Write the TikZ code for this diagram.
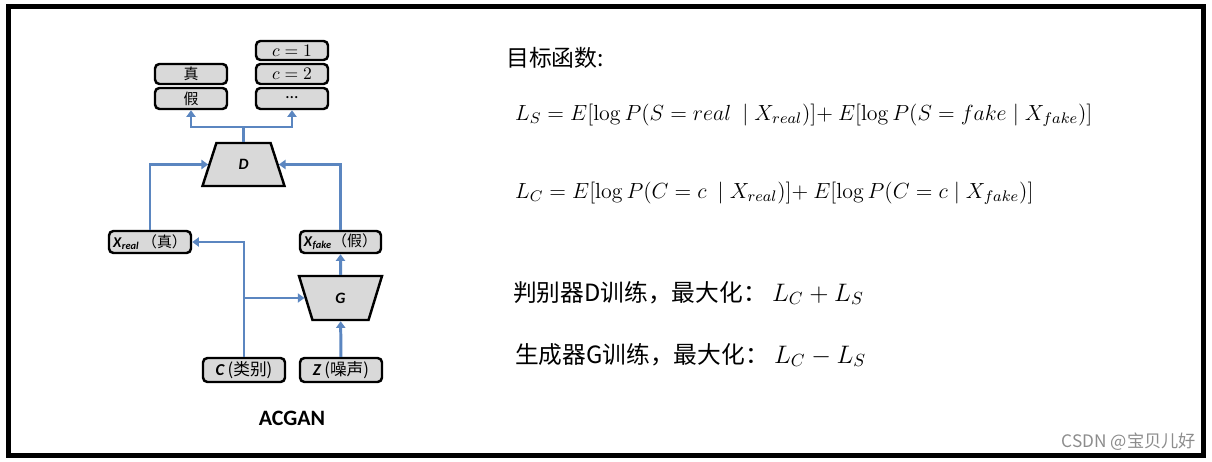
\RequirePackage{fix-cm}
\documentclass[tikz,border=0pt]{standalone}
\usepackage[no-math]{fontspec}
\setmainfont{Carlito}
\newfontfamily\cjk{Noto Sans CJK SC}
\usetikzlibrary{arrows.meta,shapes.geometric}
\definecolor{flowblue}{HTML}{5B86C0}
\definecolor{boxgray}{HTML}{D9D9D9}
\newcommand{\bi}[1]{\textbf{\textit{#1}}}
\tikzset{
  flow/.style={draw=flowblue, line width=1.7pt, -{Triangle[length=3.8pt,width=5.2pt]}},
  labelbox/.style={draw, line width=1.4pt, rounded corners=2.5pt, fill=boxgray,
    inner sep=0pt, font=\fontsize{8.5}{10}\selectfont},
  trap/.style={trapezium, trapezium stretches=true, draw, line width=1.4pt,
    fill=boxgray, inner sep=0pt, font=\fontsize{9}{10}\selectfont}
}
\begin{document}
\begin{tikzpicture}[x=0.02cm,y=-0.02cm]
  \useasboundingbox (0,0) rectangle (1212,462);
  \draw[line width=2.8pt] (8.5,6.5) rectangle (1203.5,455.5); % frame

  % discriminator outputs
  \node[labelbox, minimum width=1.44cm, minimum height=0.40cm] (real) at (191,74) {\cjk 真};
  \node[labelbox, minimum width=1.44cm, minimum height=0.42cm] (fake) at (191,98.5) {\cjk 假};
  \node[labelbox, minimum width=1.44cm, minimum height=0.38cm, font=\fontsize{10}{11}\selectfont] (cone) at (292,50.5) {$c = 1$};
  \node[labelbox, minimum width=1.44cm, minimum height=0.40cm, font=\fontsize{10}{11}\selectfont] (ctwo) at (292,74) {$c = 2$};
  \node[labelbox, minimum width=1.44cm, minimum height=0.42cm, font=\fontsize{10}{11}\selectfont] (cdots) at (292,98.5) {\raisebox{1pt}{\ldots}};

  % D and G
  \node[trap, trapezium angle=76, minimum width=1.64cm, minimum height=0.86cm] (D) at (243.5,164.5) {\bi{D}};
  \node[trap, trapezium angle=77, shape border rotate=180, minimum width=1.66cm, minimum height=0.88cm] (G) at (340.5,298) {\bi{G}};

  % samples and inputs
  \node[labelbox, minimum width=1.64cm, minimum height=0.44cm] (xreal) at (150,242) {\bi{X}\textsubscript{\bi{real}}\,{\cjk （真）}};
  \node[labelbox, minimum width=1.62cm, minimum height=0.44cm] (xfake) at (340.5,242) {\bi{X}\textsubscript{\bi{fake}}{\cjk （假）}};
  \node[labelbox, minimum width=1.64cm, minimum height=0.48cm, font=\fontsize{9.5}{10}\selectfont] (cin) at (244,370) {\bi{C}\,{\cjk (类别)}};
  \node[labelbox, minimum width=1.64cm, minimum height=0.48cm, font=\fontsize{9.5}{10}\selectfont] (zin) at (341,370) {\bi{Z}\,{\cjk (噪声)}};

  \node[font=\bfseries\fontsize{12.5}{14}\selectfont] (acgan) at (292,418) {ACGAN};

  % connectors
  \coordinate (split) at (243.5,127);
  \draw[flowblue, line width=1.7pt] (D.north) -- (split);
  \draw[flow] (split) -| (fake.south);
  \draw[flow] (split) -| (cdots.south);
  \draw[flow] (xreal.north) |- (D.west);
  \draw[flow] (xfake.north) |- (D.east);
  \draw[flow] (G) -- (xfake);
  \draw[flow] (zin) -- (G);
  \draw[flow] (cin.north) |- (xreal.east);
  \coordinate (branch) at (cin.north |- G.west);
  \draw[flow] (branch) -- (G.west);

  % objective
  \node[anchor=west, font=\cjk\fontsize{13}{15}\selectfont] (title) at (500,58) {目标函数:};
  \node[anchor=west, font=\fontsize{12.45}{14}\selectfont] (ls) at (509,115)
    {$L_S = E[\log P(S = real\ \mid X_{real})]{+}\ E[\log P(S = fake \mid X_{fake})]$};
  \node[anchor=west, font=\fontsize{12.45}{14}\selectfont] (lc) at (509,193)
    {$L_C = E[\log P(C = c\ \mid X_{real})]{+}\ E[\log P(C = c \mid X_{fake})]$};
  \node[anchor=west, font=\fontsize{13.5}{16}\selectfont] (traind) at (507,293)
    {{\cjk 判别器D训练，最大化：}\ {\fontsize{14.4}{16}\selectfont$L_C + L_S$}};
  \node[anchor=west, font=\fontsize{13.5}{16}\selectfont] (traing) at (509,355)
    {{\cjk 生成器G训练，最大化：}\ {\fontsize{14.4}{16}\selectfont$L_C - L_S$}};

  \node[font=\cjk\fontsize{9.8}{11}\selectfont, text=black!45] (mark) at (1129,442) {CSDN @宝贝儿好};
\end{tikzpicture}
\end{document}
